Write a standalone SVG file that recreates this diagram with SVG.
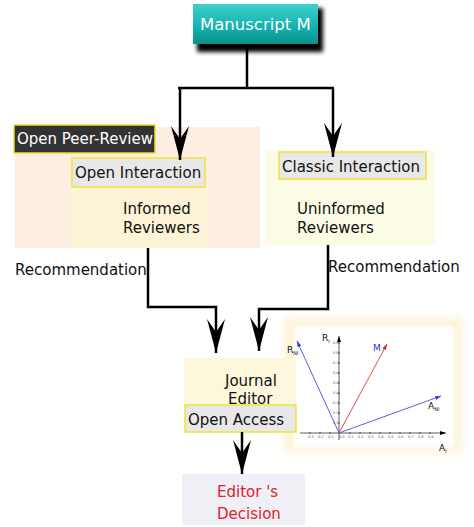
<svg xmlns="http://www.w3.org/2000/svg" width="474" height="527" viewBox="0 0 474 527">
<defs>
<linearGradient id="teal" x1="0" y1="0" x2="0" y2="1">
<stop offset="0" stop-color="#3fd0cc"/>
<stop offset="0.6" stop-color="#14b0ad"/>
<stop offset="1" stop-color="#0a8f8c"/>
</linearGradient>
<filter id="blur" x="-20%" y="-20%" width="140%" height="140%"><feGaussianBlur stdDeviation="2"/></filter>
<filter id="soft" x="-20%" y="-20%" width="140%" height="140%"><feGaussianBlur stdDeviation="4"/></filter>
<marker id="dart" viewBox="0 0 34 18" refX="34" refY="9" markerWidth="34" markerHeight="18" markerUnits="userSpaceOnUse" orient="auto">
<path d="M34,9 L0,0 L13,9 L0,18 Z" fill="#000"/>
</marker>
<marker id="vb" viewBox="0 0 6 4" refX="6" refY="2" markerWidth="6" markerHeight="4" markerUnits="userSpaceOnUse" orient="auto">
<path d="M6,2 L0,0 L0,4 Z" fill="#3535e0"/>
</marker>
<marker id="vr" viewBox="0 0 6 4" refX="6" refY="2" markerWidth="6" markerHeight="4" markerUnits="userSpaceOnUse" orient="auto">
<path d="M6,2 L0,0 L0,4 Z" fill="#d02020"/>
</marker>
<marker id="ax" viewBox="0 0 6 4" refX="6" refY="2" markerWidth="6" markerHeight="4" markerUnits="userSpaceOnUse" orient="auto">
<path d="M6,2 L0,0 L0,4 Z" fill="#000"/>
</marker>
</defs>
<style>
text{font-family:"DejaVu Sans","Liberation Sans",sans-serif;font-size:15px;fill:#111}
.wt{fill:#fff}
.red{fill:#e3202a}
.lbl{fill:#e8e8e8;stroke:#f2e23a;stroke-width:1.5}
.conn{fill:none;stroke:#000;stroke-width:2.5}
.tk{font-size:3.5px;fill:#555}
.ax{stroke:#333;stroke-width:0.8;fill:none}
.sm{font-size:9px}
.ss{font-size:5px}
</style>
<rect width="474" height="527" fill="#fff"/>

<g id="manuscript">
<rect x="197" y="8" width="126" height="44" fill="#000" filter="url(#blur)"/>
<rect x="193" y="4" width="125" height="40" fill="url(#teal)"/>
<text x="200" y="30" class="wt" style="font-size:16.5px">Manuscript M</text>
</g>

<g id="open-peer-review">
<rect x="15" y="127" width="245" height="121" fill="#fdeee2"/>
<rect x="72" y="186" width="136" height="62" fill="#fdf4d8"/>
<rect x="14" y="125" width="141" height="28" fill="#333" stroke="#f0dc30" stroke-width="1.5"/>
<text x="17" y="144" class="wt">Open Peer-Review</text>
</g>

<g id="open-interaction">
<rect x="72" y="158" width="133" height="29" class="lbl"/>
<text x="75" y="178">Open Interaction</text>
</g>

<g id="informed-reviewers">
<text x="123" y="214">Informed</text>
<text x="123" y="233">Reviewers</text>
</g>

<g id="classic-interaction">
<rect x="265" y="150" width="170" height="95" fill="#fbfbe6"/>
<rect x="279" y="152" width="147" height="27" class="lbl"/>
<text x="282" y="172">Classic Interaction</text>
</g>

<g id="uninformed-reviewers">
<text x="297" y="214">Uninformed</text>
<text x="297" y="233">Reviewers</text>
</g>

<g id="recommendation-left"><text x="15" y="275">Recommendation</text></g>
<g id="recommendation-right"><text x="328" y="272">Recommendation</text></g>

<g id="chart">
<rect x="284" y="318" width="178" height="134" fill="#fbf3d6" filter="url(#soft)"/>
<rect x="294" y="326" width="160" height="122" fill="#fff" filter="url(#blur)"/>
<line x1="300" y1="433" x2="446" y2="433" class="ax" marker-end="url(#ax)"/>
<line x1="339" y1="440" x2="339" y2="336" class="ax" marker-end="url(#ax)"/>
<g class="ax">
<path d="M310,432v2M320,432v2M330,432v2M350,432v2M360,432v2M370,432v2M380,432v2M390,432v2M400,432v2M410,432v2M420,432v2M430,432v2"/>
<path d="M338,423h2M338,413h2M338,403h2M338,393h2M338,383h2M338,373h2M338,363h2M338,353h2M338,343h2"/>
</g>
<g>
<text x="307" y="438" class="tk">-0.3</text><text x="317" y="438" class="tk">-0.2</text><text x="327" y="438" class="tk">-0.1</text>
<text x="339" y="438" class="tk">0.0</text><text x="348" y="438" class="tk">0.1</text><text x="358" y="438" class="tk">0.2</text>
<text x="368" y="438" class="tk">0.3</text><text x="378" y="438" class="tk">0.4</text><text x="388" y="438" class="tk">0.5</text>
<text x="398" y="438" class="tk">0.6</text><text x="408" y="438" class="tk">0.7</text><text x="418" y="438" class="tk">0.8</text>
<text x="428" y="438" class="tk">0.9</text>
<text x="333" y="424" class="tk">0.1</text><text x="333" y="414" class="tk">0.2</text><text x="333" y="404" class="tk">0.3</text>
<text x="333" y="394" class="tk">0.4</text><text x="333" y="384" class="tk">0.5</text><text x="333" y="374" class="tk">0.6</text>
<text x="333" y="364" class="tk">0.7</text><text x="333" y="354" class="tk">0.8</text><text x="333" y="344" class="tk">0.9</text>
</g>
<line x1="339" y1="433" x2="297" y2="341" stroke="#4a4ae8" stroke-width="0.9" marker-end="url(#vb)"/>
<line x1="339" y1="433" x2="387" y2="344" stroke="#e03a3a" stroke-width="0.9" marker-end="url(#vr)"/>
<line x1="339" y1="433" x2="441" y2="396" stroke="#4a4ae8" stroke-width="0.9" marker-end="url(#vb)"/>
<text x="322" y="341" class="sm">R<tspan class="ss" dy="2">I</tspan></text>
<text x="287" y="353" class="sm">R<tspan class="ss" dy="2">NI</tspan></text>
<text x="373" y="351" class="sm" style="fill:#3030e0">M</text>
<text x="428" y="409" class="sm">A<tspan class="ss" dy="2">NI</tspan></text>
<text x="439" y="451" class="sm">A<tspan class="ss" dy="2">I</tspan></text>
</g>

<g id="journal-editor">
<rect x="184" y="358" width="112" height="74" fill="#fdf8dc"/>
<text x="225" y="386">Journal</text>
<text x="228" y="404">Editor</text>
</g>

<g id="open-access">
<rect x="185" y="405" width="111" height="27" class="lbl"/>
<text x="188" y="425">Open Access</text>
</g>

<g id="editors-decision">
<rect x="182" y="474" width="123" height="51" fill="#efeff6"/>
<text x="217" y="497" class="red">Editor 's</text>
<text x="217" y="519" class="red">Decision</text>
</g>

<g id="connectors">
<path d="M247,44 V88 M178,88 H334" class="conn"/>
<path d="M180,88 V160" class="conn" marker-end="url(#dart)"/>
<path d="M333,88 V157" class="conn" marker-end="url(#dart)"/>
<path d="M148,248 V307 H216 V353" class="conn" marker-end="url(#dart)"/>
<path d="M328,245 V309 H259 V351" class="conn" marker-end="url(#dart)"/>
<path d="M242,432 V474" class="conn" marker-end="url(#dart)"/>
</g>
</svg>
